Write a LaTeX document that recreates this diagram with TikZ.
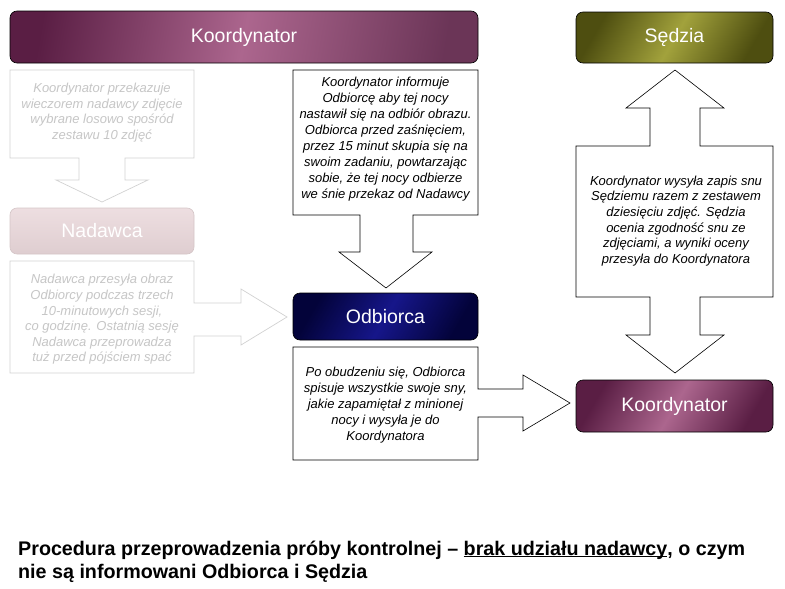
\documentclass[tikz,border=0pt]{standalone}
\usepackage{fontspec}
\setmainfont{Liberation Sans}
\usepackage{tikz}
\usetikzlibrary{positioning}

\definecolor{plumdark}{HTML}{5A1E44}
\definecolor{plumlight}{HTML}{AC668E}
\definecolor{navydark}{HTML}{03033A}
\definecolor{navylight}{HTML}{16168A}
\definecolor{olivedark}{HTML}{4E4E10}
\definecolor{olivelight}{HTML}{A2A23C}
\definecolor{pinkpale}{HTML}{E9D6D9}
\definecolor{greyline}{HTML}{D2D2D2}
\definecolor{greytext}{HTML}{C6C6C6}

\begin{document}
\begin{tikzpicture}[x=1pt, y=-1pt,
    headbox/.style = {rectangle, rounded corners = 7pt, draw = black, line width = 0.6pt,
        text = white, font = \fontsize{19.5}{22}\selectfont},
    notetext/.style = {align = center, font = \fontsize{13}{16}\selectfont\itshape},
    greynote/.style = {notetext, text = greytext, font = \fontsize{13}{15.6}\selectfont\itshape},
    callout/.style = {draw = black, line width = 0.6pt, fill = white},
    greycallout/.style = {draw = greyline, line width = 0.7pt, fill = white}]

        \useasboundingbox (0, 0) rectangle (785, 589);

        % naglowki
        \node[headbox, minimum width = 468pt, minimum height = 52pt,
            left color = plumdark, right color = plumdark!90, middle color = plumlight, shading angle = 80] (koord) at (244, 37) {Koordynator};
        \node[headbox, minimum width = 197pt, minimum height = 51pt,
            left color = olivedark, right color = olivedark, middle color = olivelight, shading angle = 60] (sedzia) at (674.5, 37.5) {Sędzia};
        \node[headbox, draw = pinkpale!80!gray, minimum width = 184pt, minimum height = 46pt,
            top color = pinkpale!80, bottom color = pinkpale!90!gray] (nadawca) at (102, 231) {Nadawca};
        \node[headbox, minimum width = 185pt, minimum height = 47pt,
            left color = navydark, right color = navydark, middle color = navylight, shading angle = 60] (odbiorca) at (385.5, 316.5) {Odbiorca};
        \node[headbox, minimum width = 197pt, minimum height = 52pt,
            left color = plumdark, right color = plumdark, middle color = plumlight, shading angle = 60] (koordB) at (674.5, 406) {Koordynator};

        % objasnienia ze strzalkami
        \draw[greycallout] (10, 70) -- (194, 70) -- (194, 158) -- (125, 158) -- (125, 180) -- (148, 180)
            -- (102, 202) -- (56, 180) -- (79, 180) -- (79, 158) -- (10, 158) -- cycle;
        \draw[greycallout] (10, 261) -- (194, 261) -- (194, 303) -- (241, 303) -- (241, 289) -- (287, 317)
            -- (241, 345) -- (241, 336) -- (194, 336) -- (194, 373) -- (10, 373) -- cycle;
        \draw[callout] (293, 70) -- (478, 70) -- (478, 215) -- (413, 215) -- (413, 252) -- (432, 252)
            -- (386, 288) -- (339, 252) -- (360, 252) -- (360, 215) -- (293, 215) -- cycle;
        \draw[callout] (293, 347) -- (478, 347) -- (478, 389) -- (523, 389) -- (523, 375) -- (570, 403)
            -- (523, 431) -- (523, 417) -- (478, 417) -- (478, 460) -- (293, 460) -- cycle;
        \draw[callout] (576, 146) -- (650, 146) -- (650, 108) -- (626, 108) -- (675, 70) -- (724, 108)
            -- (700, 108) -- (700, 146) -- (773, 146) -- (773, 297) -- (700, 297) -- (700, 335)
            -- (724, 335) -- (675, 373) -- (626, 335) -- (650, 335) -- (650, 297) -- (576, 297) -- cycle;

        \node[greynote] (noteLosowanie) at (102, 112.5) {Koordynator przekazuje\\wieczorem nadawcy zdjęcie\\wybrane losowo spośród\\zestawu 10 zdjęć};
        \node[greynote] (noteSesje) at (102, 319.5) {Nadawca przesyła obraz\\Odbiorcy podczas trzech\\10-minutowych sesji,\\co godzinę. Ostatnią sesję\\Nadawca przeprowadza\\tuż przed pójściem spać};
        \node[notetext] (noteInformuje) at (385.5, 139) {Koordynator informuje\\Odbiorcę aby tej nocy\\nastawił się na odbiór obrazu.\\Odbiorca przed zaśnięciem,\\przez 15 minut skupia się na\\swoim zadaniu, powtarzając\\sobie, że tej nocy odbierze\\we śnie przekaz od Nadawcy};
        \node[notetext] (noteSpisuje) at (385.5, 405) {Po obudzeniu się, Odbiorca\\spisuje wszystkie swoje sny,\\jakie zapamiętał z minionej\\nocy i wysyła je do\\Koordynatora};
        \node[notetext, font = \fontsize{13}{15.6}\selectfont\itshape] (noteOcena) at (676, 221) {Koordynator wysyła zapis snu\\Sędziemu razem z zestawem\\dziesięciu zdjęć. Sędzia\\ocenia zgodność snu ze\\zdjęciami, a wyniki oceny\\przesyła do Koordynatora};

        % podpis
        \node[anchor = north west, align = left, inner sep = 0pt,
            font = \fontsize{19.7}{23}\selectfont\bfseries] (caption) at (18, 540.5)
            {Procedura przeprowadzenia próby kontrolnej – $\underline{\smash{\hbox{brak udziału nadawcy}}}$, o czym\\nie są informowani Odbiorca i Sędzia};
      \end{tikzpicture}
\end{document}
